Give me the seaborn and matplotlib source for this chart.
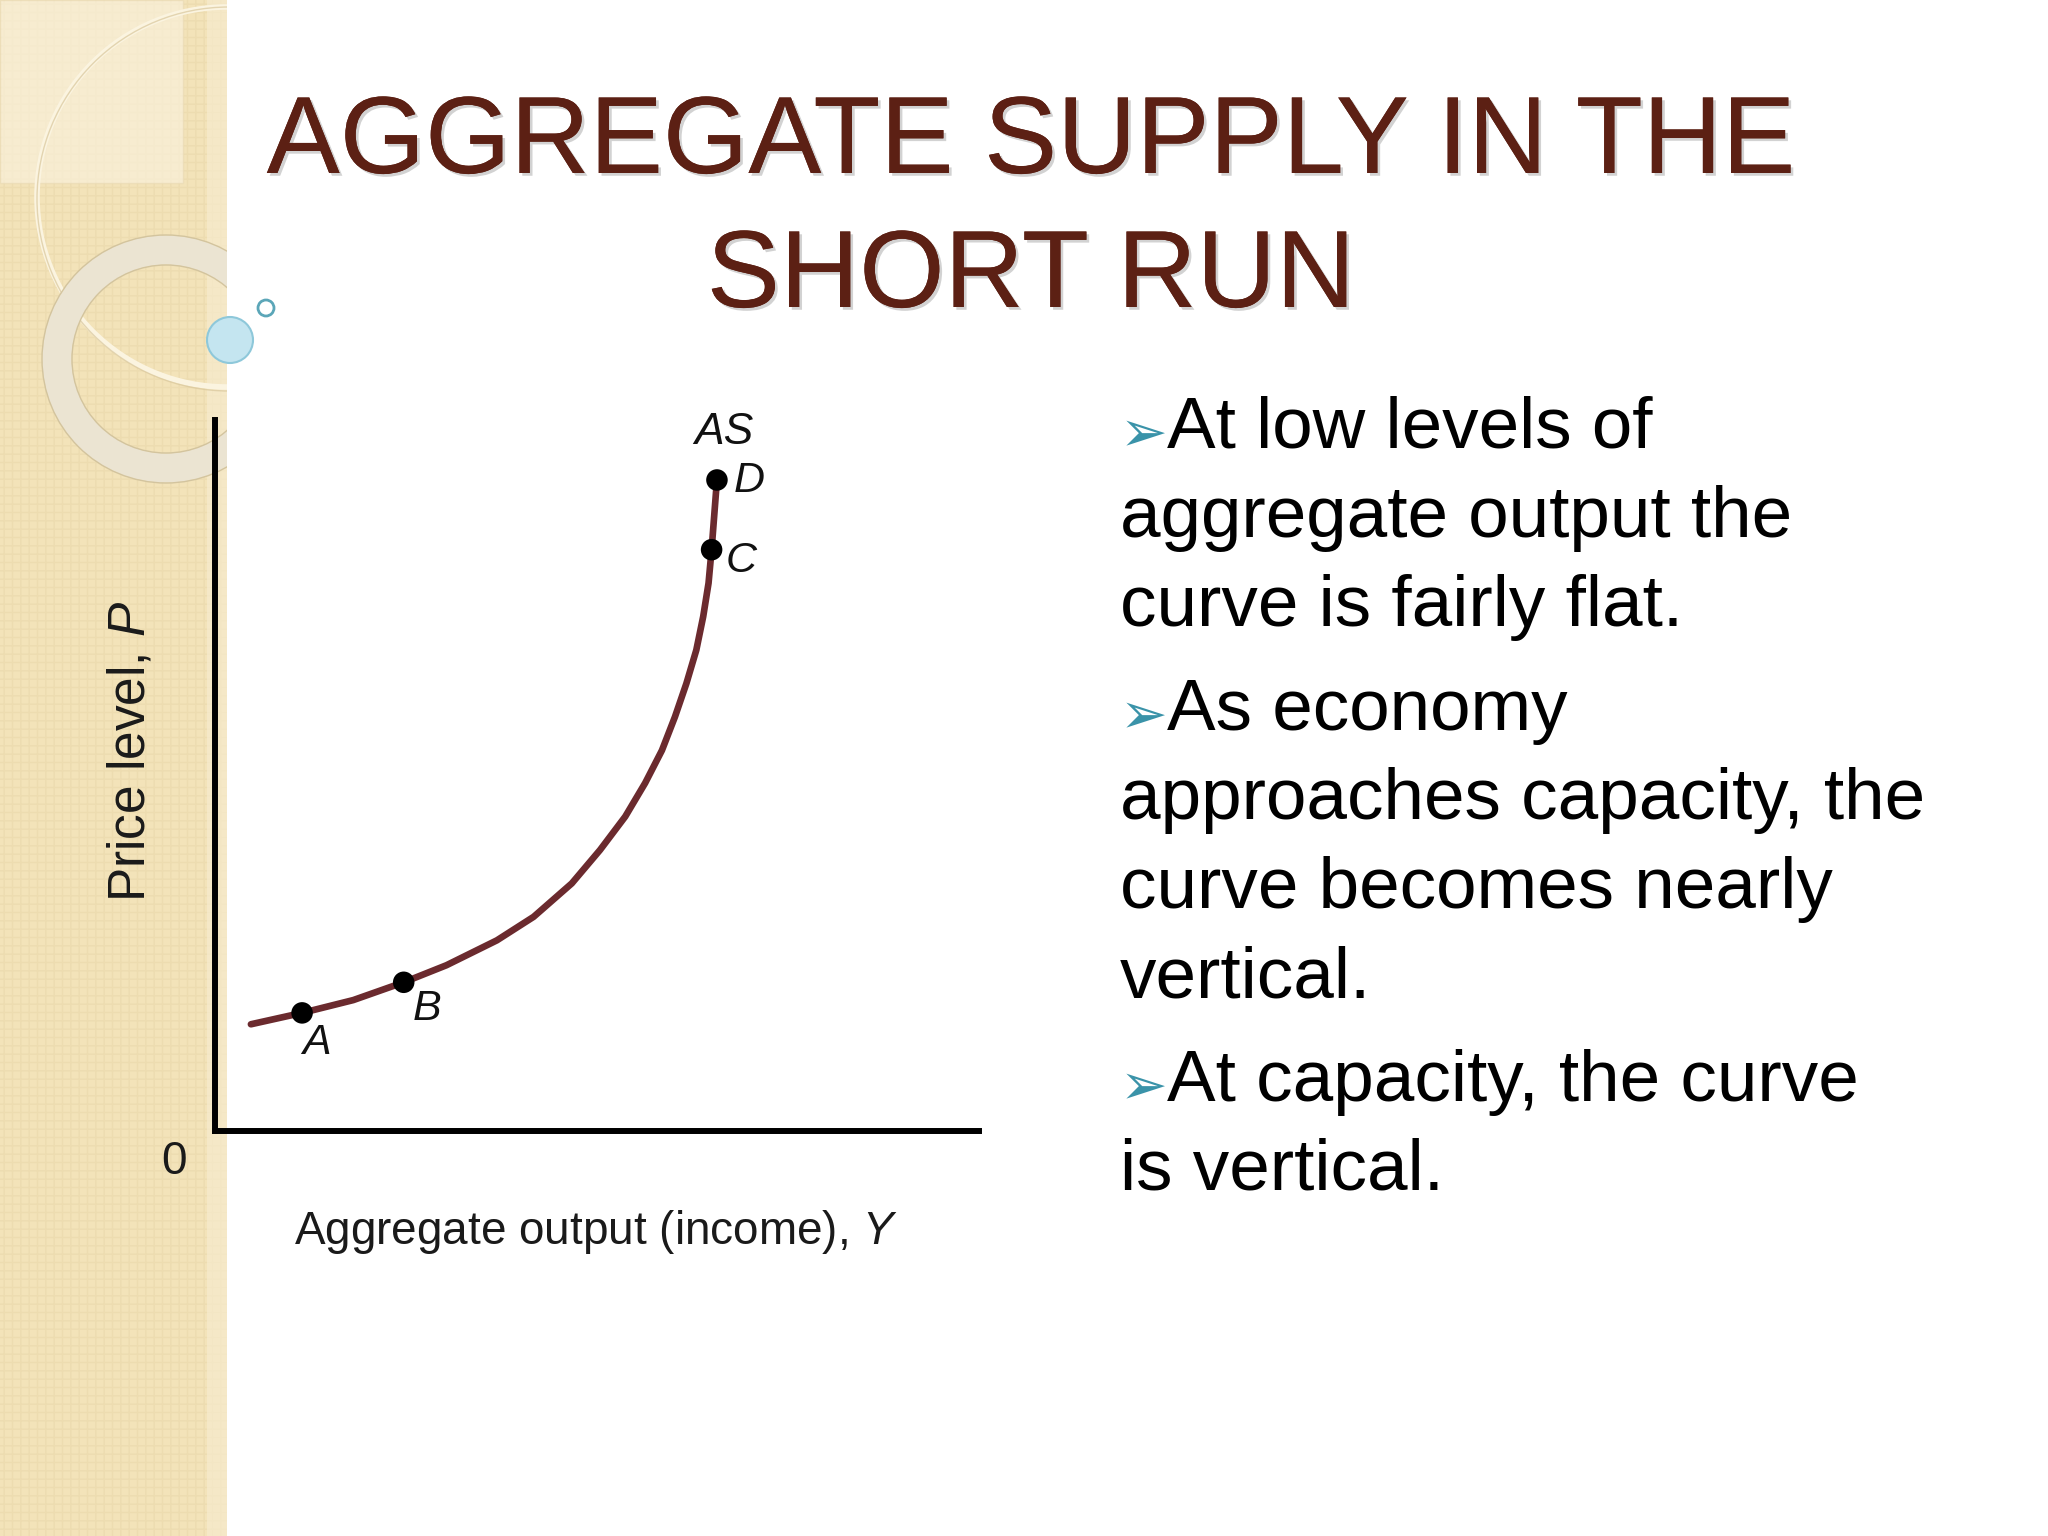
import numpy as np
import pandas as pd
import seaborn as sns
import matplotlib.pyplot as plt
import matplotlib.patheffects as pe
from matplotlib.patches import Rectangle, Circle

# AS curve (x: output, y: price level, both 0-100 of the axes)
curve_x = [4.7, 11.4, 18.1, 24.7, 30.3, 36.9, 41.7, 46.7, 50.4, 53.7, 56.3, 58.5, 60.2,
           61.7, 63.0, 63.9, 64.6, 65.0, 65.7]
curve_y = [15.0, 16.6, 18.4, 20.9, 23.3, 26.8, 30.1, 34.8, 39.5, 44.2, 48.9, 53.5, 58.2,
           62.9, 67.6, 72.3, 77.0, 81.7, 91.5]

point_names = ["A", "B", "C", "D"]
point_x = [11.4, 24.7, 65.0, 65.7]
point_y = [16.6, 20.9, 81.7, 91.5]

title_lines = ["AGGREGATE SUPPLY IN THE", "SHORT RUN"]
bullets = [
    ["At low levels of", "aggregate output the", "curve is fairly flat."],
    ["As economy", "approaches capacity, the", "curve becomes nearly", "vertical."],
    ["At capacity, the curve", "is vertical."],
]

W, H = 2048, 1536

sns.set_theme(style="white")
plt.rcParams["font.family"] = ["Liberation Sans", "DejaVu Sans"]
plt.rcParams["mathtext.fontset"] = "custom"
plt.rcParams["mathtext.it"] = "Liberation Sans:italic"
plt.rcParams["mathtext.rm"] = "Liberation Sans"
plt.rcParams["hatch.linewidth"] = 1.0

fig = plt.figure(figsize=(W / 100, H / 100), dpi=100)
fig.patch.set_facecolor("white")

# background decoration in pixel coords
bg = fig.add_axes([0, 0, 1, 1], zorder=0)
bg.set_xlim(0, W)
bg.set_ylim(H, 0)
bg.axis("off")

panel = Rectangle((0, 0), 227, H, facecolor="#f3e3b9", edgecolor="#eddcb0", hatch="++", lw=0)
bg.add_patch(panel)
bg.add_patch(Rectangle((207, 0), 20, H, facecolor="#f8edd2", edgecolor="none", alpha=0.6))

sq = Rectangle((0, 0), 183, 183, facecolor="#f9f0da", edgecolor="#eadbb5", lw=1, alpha=0.7)
bg.add_patch(sq)
sq.set_clip_path(panel)

big = Circle((227, 197), 190, facecolor="none", edgecolor="#fbf4e0", lw=4)
bg.add_patch(big)
big.set_clip_path(panel)
big_sh = Circle((229, 199), 192, facecolor="none", edgecolor="#d9c79c", lw=1, alpha=0.7)
bg.add_patch(big_sh)
big_sh.set_clip_path(panel)

ring = Circle((166, 359), 109, facecolor="none", edgecolor="#ebe4d2", lw=21)
bg.add_patch(ring)
ring.set_clip_path(panel)
for r in (94, 124):
    edge = Circle((166, 359), r, facecolor="none", edgecolor="#d3c49e", lw=1)
    bg.add_patch(edge)
    edge.set_clip_path(panel)

bg.add_patch(Circle((230, 340), 23, facecolor="#c4e5f0", edgecolor="#8ec8da", lw=1.5))
bg.add_patch(Circle((266, 308), 8, facecolor="none", edgecolor="#5ba6b8", lw=2))

# title
title_color = "#5c2014"
shadow = [pe.withSimplePatchShadow(offset=(2, -2), shadow_rgbFace="#808080", alpha=0.35), pe.Normal()]
for line, base in zip(title_lines, [173, 307]):
    fig.text(1031 / W, 1 - base / H, line, ha="center", va="baseline",
             fontsize=79, color=title_color, path_effects=shadow)

# bullet text
y = 448
for para in bullets:
    for i, line in enumerate(para):
        if i == 0:
            fig.text(1120 / W, 1 - (y + 3) / H, "\u27a2", ha="left", va="baseline",
                     fontsize=41, color="#3a93a9", family=["DejaVu Sans"])
            fig.text(1167 / W, 1 - y / H, line, ha="left", va="baseline", fontsize=52.5, color="black")
        else:
            fig.text(1120 / W, 1 - y / H, line, ha="left", va="baseline", fontsize=52.5, color="black")
        y += 89
    y += 15

# chart
ax = fig.add_axes([215 / W, 1 - 1131 / H, (979 - 215) / W, (1131 - 419.5) / H], zorder=2)
ax.set_facecolor("none")

curve = pd.DataFrame({"output": curve_x, "price": curve_y})
points = pd.DataFrame({"name": point_names, "output": point_x, "price": point_y})

sns.lineplot(data=curve, x="output", y="price", sort=False, estimator=None,
             color="#6b2a2e", lw=4.8, ax=ax)
sns.scatterplot(data=points, x="output", y="price", color="black", s=240,
                edgecolor="none", zorder=3, ax=ax)

label_offsets = {"A": (10, -22), "B": (16.5, -19), "C": (21, -8), "D": (23, -1)}
for _, row in points.iterrows():
    ax.annotate(row["name"], (row["output"], row["price"]), xytext=label_offsets[row["name"]],
                textcoords="offset points", ha="center", va="center",
                fontsize=31, style="italic", color="#111111")
d = points[points["name"] == "D"].iloc[0]
ax.annotate("AS", (d["output"], d["price"]), xytext=(5, 34), textcoords="offset points",
            ha="center", va="center", fontsize=32, style="italic", color="#111111")

ax.set_xlim(0, 100)
ax.set_ylim(0, 100)
ax.set_xticks([])
ax.set_yticks([])
for side in ["top", "right"]:
    ax.spines[side].set_visible(False)
for side in ["left", "bottom"]:
    ax.spines[side].set_color("black")
    ax.spines[side].set_linewidth(4.3)

ax.set_xlabel(r"Aggregate output (income), $\it{Y}$", fontsize=33, color="#1a1a1a")
ax.xaxis.set_label_coords((596 - 215) / 764, (1131 - 1232) / 711.5)
ax.xaxis.label.set_va("center")
ax.set_ylabel(r"Price level, $\it{P}$", fontsize=37, color="#1a1a1a")
ax.yaxis.set_label_coords((131 - 215) / 764, (1131 - 751) / 711.5)
ax.yaxis.label.set_va("center")
fig.text(174 / W, 1 - 1162 / H, "0", ha="center", va="center", fontsize=33, color="#1a1a1a")

fig.savefig("out.png", dpi=100)
